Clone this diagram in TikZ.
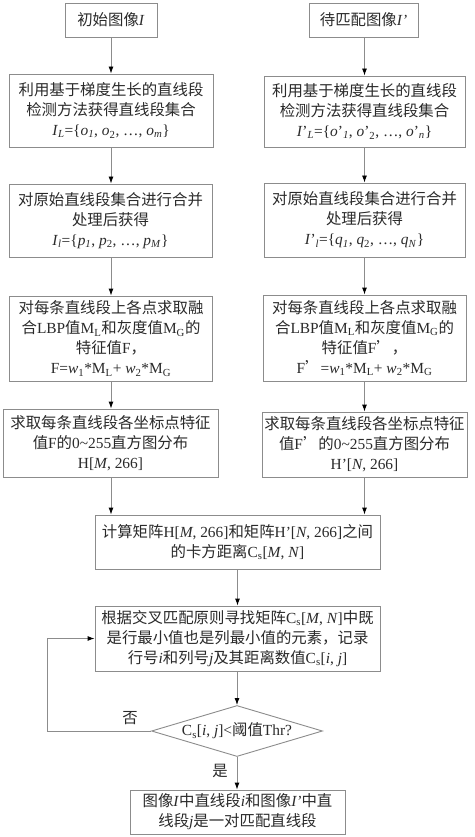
\documentclass[tikz,border=0pt]{standalone}
\usepackage{fontspec}
\setmainfont{Liberation Serif}
\newfontfamily\cjk{Noto Sans CJK SC}
\usetikzlibrary{arrows.meta,shapes.geometric}
\newcommand{\zh}[1]{{\cjk #1}}
\newcommand{\iv}[1]{\textit{#1}}
\newcommand{\sbs}[1]{\textsubscript{#1}}
\definecolor{linec}{HTML}{8C8C8C}
\definecolor{txtc}{HTML}{2A2A2A}
\tikzset{
  box/.style={draw=linec, line width=0.9pt, fill=white, align=center, inner sep=0pt,
    text=txtc, font=\fontsize{15.4}{20}\selectfont},
  dia/.style={box, shape=diamond, aspect=3.35},
  arr/.style={draw=linec, line width=0.9pt, -{Latex[color=black,length=7pt,width=5pt]}},
  lbl/.style={text=txtc, font=\fontsize{15.4}{20}\selectfont, inner sep=0pt}
}
\begin{document}
\begin{tikzpicture}[x=1pt,y=-1pt]
\useasboundingbox[fill=white] (0,0) rectangle (474,837);
% left column
\node[box, minimum width=92pt, minimum height=34pt] (a1) at (111,20) {\zh{初始图像}\iv{I}};
\node[box, minimum width=204pt, minimum height=73pt] (a2) at (111,110.5)
  {\zh{利用基于梯度生长的直线段}\\\zh{检测方法获得直线段集合}\\
   \iv{I}\sbs{\iv{L}}=\{\iv{o}\sbs{\iv{1}}, \iv{o}\sbs{2}, …, \iv{o}\sbs{\iv{m}}\}};
\node[box, minimum width=203pt, minimum height=73pt] (a3) at (110.5,220.5)
  {\zh{对原始直线段集合进行合并}\\\zh{处理后获得}\\
   \iv{I}\sbs{\iv{l}}=\{\iv{p}\sbs{\iv{1}}, \iv{p}\sbs{2}, …, \iv{p}\sbs{\iv{M}}\}};
\node[box, minimum width=203pt, minimum height=85pt] (a4) at (111,338.5)
  {\zh{对每条直线段上各点求取融}\\\zh{合}LBP\zh{值}M\sbs{L}\zh{和灰度值}M\sbs{G}\zh{的}\\
   \zh{特征值}F\zh{，}\\
   F=\iv{w}\sbs{1}*M\sbs{L}+ \iv{w}\sbs{2}*M\sbs{G}};
\node[box, minimum width=215pt, minimum height=68pt] (a5) at (110.5,443)
  {\zh{求取每条直线段各坐标点特征}\\\zh{值}F\zh{的}0\textasciitilde255\zh{直方图分布}\\
   H[\iv{M}, 266]};
% right column
\node[box, minimum width=109pt, minimum height=34pt] (b1) at (363.5,20) {\zh{待匹配图像}\iv{I'}};
\node[box, minimum width=201pt, minimum height=71pt] (b2) at (364.5,111.5)
  {\zh{利用基于梯度生长的直线段}\\\zh{检测方法获得直线段集合}\\
   \iv{I}'\sbs{\iv{L}}=\{\iv{o}'\sbs{\iv{1}}, \iv{o}'\sbs{2}, …, \iv{o}'\sbs{\iv{n}}\}};
\node[box, minimum width=201pt, minimum height=74pt] (b3) at (364.5,220)
  {\zh{对原始直线段集合进行合并}\\\zh{处理后获得}\\
   \iv{I}'\sbs{\iv{l}}=\{\iv{q}\sbs{\iv{1}}, \iv{q}\sbs{2}, …, \iv{q}\sbs{\iv{N}}\}};
\node[box, minimum width=203pt, minimum height=86pt] (b4) at (364.5,338)
  {\zh{对每条直线段上各点求取融}\\\zh{合}LBP\zh{值}M\sbs{L}\zh{和灰度值}M\sbs{G}\zh{的}\\
   \zh{特征值}F\zh{’，}\\
   F\zh{’}=\iv{w}\sbs{1}*M\sbs{L}+ \iv{w}\sbs{2}*M\sbs{G}};
\node[box, minimum width=205pt, minimum height=65pt] (b5) at (364.5,444.5)
  {\zh{求取每条直线段各坐标点特征}\\\zh{值}F\zh{’的}0\textasciitilde255\zh{直方图分布}\\
   H’[\iv{N}, 266]};
% merged
\node[box, minimum width=285pt, minimum height=54pt] (c6) at (237.5,542)
  {\zh{计算矩阵}H[\iv{M}, 266]\zh{和矩阵}H’[\iv{N}, 266]\zh{之间}\\
   \zh{的卡方距离}C\sbs{s}[\iv{M}, \iv{N}]};
\node[box, minimum width=285pt, minimum height=65pt] (c7) at (237.5,638.5)
  {\zh{根据交叉匹配原则寻找矩阵}C\sbs{s}[\iv{M}, \iv{N}]\zh{中既}\\
   \zh{是行最小值也是列最小值的元素，记录}\\
   \zh{行号}\iv{i}\zh{和列号}\iv{j}\zh{及其距离数值}C\sbs{s}[\iv{i}, \iv{j}]};
\node[dia, minimum width=171pt, minimum height=51pt] (d) at (237,731)
  {C\sbs{s}[\iv{i}, \iv{j}]<\zh{阈值}Thr?};
\node[box, minimum width=215pt, minimum height=44pt] (c8) at (237.5,812)
  {\zh{图像}\iv{I}\zh{中直线段}\iv{i}\zh{和图像}\iv{I'}\zh{中直}\\
   \zh{线段}\iv{j}\zh{是一对匹配直线段}};
\coordinate (fb) at (47,731);
% arrows
\draw[arr] (a1) -- (a2);
\draw[arr] (a2) -- (a2.south |- a3.north);
\draw[arr] (a3.south -| a2.south) -- (a2.south |- a4.north);
\draw[arr] (a4.south -| a2.south) -- (a2.south |- a5.north);
\draw[arr] (a5.south -| a2.south) -- (a2.south |- c6.north);
\draw[arr] (b1.south -| b2.south) -- (b2.north);
\draw[arr] (b2.south) -- (b2.south |- b3.north);
\draw[arr] (b3.south -| b2.south) -- (b2.south |- b4.north);
\draw[arr] (b4.south -| b2.south) -- (b2.south |- b5.north);
\draw[arr] (b5.south -| b2.south) -- (b2.south |- c6.north);
\draw[arr] (c6) -- (c7);
\draw[arr] (c7.south -| d.north) -- (d.north);
\draw[arr] (d.south) -- (c8.north -| d.south);
\draw[arr] (d.west) -- (fb) |- (c7.west);
\node[lbl] (no) at (130,718) {\zh{否}};
\node[lbl] (yes) at (220,771) {\zh{是}};
\end{tikzpicture}
\end{document}
